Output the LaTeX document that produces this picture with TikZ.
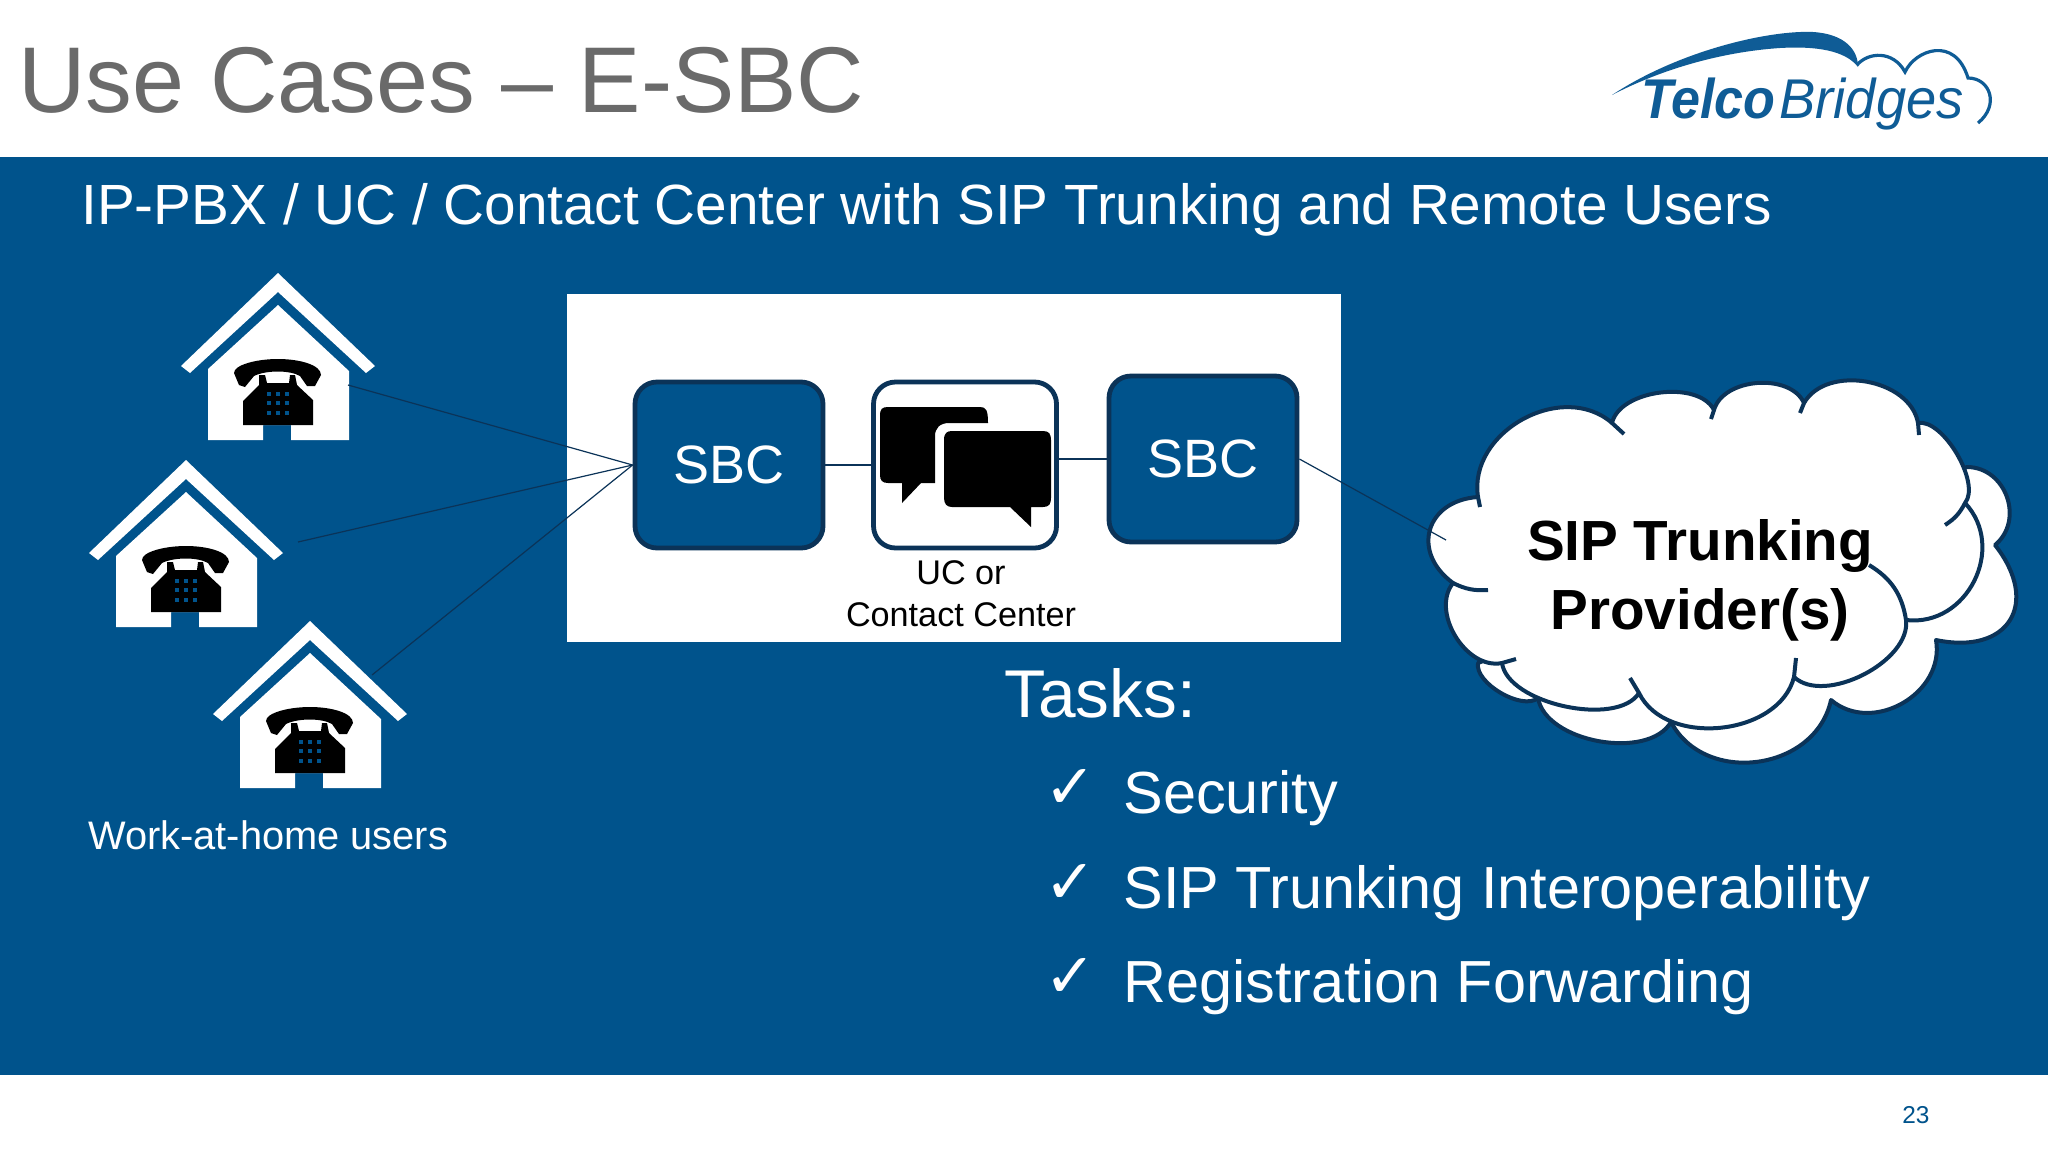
\documentclass[tikz,border=0pt]{standalone}
\usepackage{fontspec}
\setmainfont{Liberation Sans}
\newfontfamily\symfont{DejaVu Sans}
\usetikzlibrary{shapes.geometric}
\definecolor{slide}{HTML}{00538C}
\definecolor{navy}{HTML}{0B3358}
\definecolor{logoblue}{HTML}{0F5C96}
\definecolor{titlegray}{HTML}{6A6A6A}
\tikzset{
  homeuser/.pic={
    \fill[white] (0,0) -- (97,93) -- (88,100) -- (0,19) -- (-88,100) -- (-97,93) -- cycle;
    \fill[white] (0,32) -- (71,98) -- (71,167) -- (13,167) -- (13,152) -- (-15,152) -- (-15,167) -- (-70,167) -- (-70,96) -- cycle;
    \fill[black] (-44,100) .. controls (-44,92) and (-22,86) .. (0,86) .. controls (22,86) and (43,92) .. (43,102)
      -- (37,113) -- (29,113) -- (22,103) .. controls (12,97) and (-12,97) .. (-24,103) -- (-33,114) -- (-39,112) -- cycle;
    \fill[black] (-35,152) -- (-35,128) -- (-19,112) -- (-19,102) -- (-13,102) -- (-11,110) -- (11,110) -- (12,102)
      -- (17,102) -- (19,112) -- (35,127) -- (35,152) -- cycle;
    \foreach \dx in {-9,0,9} \foreach \dy in {121,130,140}
      \fill[slide] (\dx-2,\dy-2) rectangle (\dx+2,\dy+2);
  }
}
\begin{document}
\begin{tikzpicture}[x=0.5pt,y=-0.5pt,node distance=118pt]
\tikzstyle{plain}=[inner sep=0pt,anchor=base west]
\tikzstyle{sbc}=[rectangle,rounded corners=11pt,draw=navy,line width=2.4pt,fill=slide,text=white,minimum width=94pt,minimum height=83pt,font=\fontsize{27}{31}\selectfont]
\tikzstyle{wire}=[navy,line width=0.6pt]
\tikzstyle{puff}=[draw=navy,line width=2pt,fill=white,line join=round]
\tikzstyle{tail}=[draw=navy,line width=2pt]
\tikzstyle{lobe}=[bend left=70,looseness=#1]
\tikzstyle{task}=[plain,text=white,font=\fontsize{29.7}{34}\selectfont]
\tikzstyle{tick}=[plain,text=white,font=\symfont\fontsize{31}{36}\selectfont]
\useasboundingbox (0,0) rectangle (2048,1152);
\fill[white] (0,0) rectangle (2048,1152);
\fill[slide] (0,157) rectangle (2048,1075);
\node[plain,text=titlegray,font=\fontsize{46.7}{54}\selectfont] (title) at (18,112) {Use Cases – E-SBC};
\node[plain,text=white,font=\fontsize{28.35}{33}\selectfont] (sub) at (81,224) {IP-PBX / UC / Contact Center with SIP Trunking and Remote Users};
\node[plain,text=logoblue,font=\bfseries\itshape\fontsize{28}{32}\selectfont] (telco) at (1641,118) {\scalebox{.93}[1]{Telco}};
\node[plain,text=logoblue,font=\itshape\fontsize{28}{32}\selectfont] (bridges) at (1779,118) {\scalebox{.97}[1]{Bridges}};
\fill[logoblue] (1612,95) .. controls (1680,50) and (1770,30) .. (1813,32) .. controls (1845,34) and (1858,50) .. (1858,67)
  .. controls (1845,50) and (1815,46) .. (1780,48) .. controls (1720,52) and (1660,70) .. (1612,95) -- cycle;
\draw[logoblue,line width=1.6pt] (1857,65) .. controls (1868,52) and (1893,50) .. (1905,72)
  .. controls (1915,50) and (1955,35) .. (1968,78) .. controls (1990,78) and (2000,105) .. (1978,123);
\fill[white] (567,294) rectangle (1341,642);
\pic at (278,273) {homeuser};
\pic at (186,460) {homeuser};
\pic at (310,621) {homeuser};
\node[plain,text=white,font=\fontsize{19.9}{23}\selectfont] (home) at (88,849) {Work-at-home users};
\node[sbc] (sb1) at (729,465) {SBC};
\node[sbc,right of=sb1,fill=white,minimum width=91.5pt] (mid) {};
\node[sbc,right of=mid,xshift=1pt,yshift=3pt] (sb2) {SBC};
\fill[black] (880,416) .. controls (880,409) and (882,407) .. (888,407) -- (980,407) .. controls (986,407) and (988,410) .. (988,423)
  -- (949,423) .. controls (940,423) and (935,428) .. (935,436) -- (935,483) -- (921,483) -- (902,503) -- (902,483) -- (888,483)
  .. controls (882,483) and (880,480) .. (880,475) -- cycle;
\fill[black] (944,440) .. controls (944,433) and (947,431) .. (952,431) -- (1043,431) .. controls (1049,431) and (1051,434) .. (1051,440)
  -- (1051,498) .. controls (1051,504) and (1049,507) .. (1043,507) -- (1031,507) -- (1031,527) -- (1010,507) -- (952,507)
  .. controls (947,507) and (944,504) .. (944,498) -- cycle;
\node[text=black,align=center,font=\fontsize{17.1}{21}\selectfont] (uc) at (961,594) {UC or\\Contact Center};
\draw[puff] (1967,467) to[lobe=1.2] (1995,545) to[lobe=1.7] (1936,640) to[lobe=1.15] (1831,700) to[lobe=1.15] (1671,722) to[lobe=.85] (1538,698) to[lobe=.75] (1478,663) -- cycle;
\draw[puff] (1478,497) to[lobe=1.1] (1612,423) to[lobe=.85] (1714,410) to[lobe=.95] (1804,403) to[lobe=1] (1918,423) to[lobe=.7] (1965,503)
  to[lobe=1.2] (1906,620) to[lobe=.85] (1794,677) to[lobe=1] (1639,693) to[lobe=.75] (1502,663) to[lobe=1] (1453,583) to[lobe=1.5] cycle;
\draw[tail] (1478,497) -- (1480,507);
\draw[tail] (1612,423) -- (1624,434);
\draw[tail] (1714,410) -- (1711,419);
\draw[tail] (1804,403) -- (1800,413);
\draw[tail] (1918,423) -- (1919,435);
\draw[tail] (1965,503) to[bend left=15] (1945,525);
\draw[tail] (1906,620) to[bend right=25] (1869,565);
\draw[tail] (1794,677) -- (1796,658);
\draw[tail] (1639,693) -- (1630,678);
\draw[tail] (1502,663) -- (1516,659);
\draw[tail] (1453,583) to[bend right=15] (1488,590);
\node[text=black,align=center,font=\bfseries\fontsize{28.3}{34.5}\selectfont] (prov) at (1700,580) {SIP Trunking\\Provider(s)};
\coordinate (h1) at (348,385);
\coordinate (h2) at (298,542);
\coordinate (h3) at (372,675);
\coordinate (cl) at (1446,540);
\draw[wire] (h1) -- (sb1.west);
\draw[wire] (h2) -- (sb1.west);
\draw[wire] (h3) -- (sb1.west);
\draw[wire] (sb1) -- (mid);
\draw[wire] (mid.east |- sb2.west) -- (sb2.west);
\draw[wire] (sb2.east) -- (cl);
\node[plain,text=white,font=\fontsize{33.8}{38}\selectfont] (tasks) at (1004,717) {Tasks:};
\node[tick] (k1) at (1044,808) {✓};
\node[tick] (k2) at (1044,903) {✓};
\node[tick] (k3) at (1044,997) {✓};
\node[task] (t1) at (1123,813) {Security};
\node[task] (t2) at (1123,908) {SIP Trunking Interoperability};
\node[task] (t3) at (1123,1002) {Registration Forwarding};
\node[plain,text=slide,font=\fontsize{12.2}{14}\selectfont] (num) at (1902,1123) {23};
\end{tikzpicture}
\end{document}
